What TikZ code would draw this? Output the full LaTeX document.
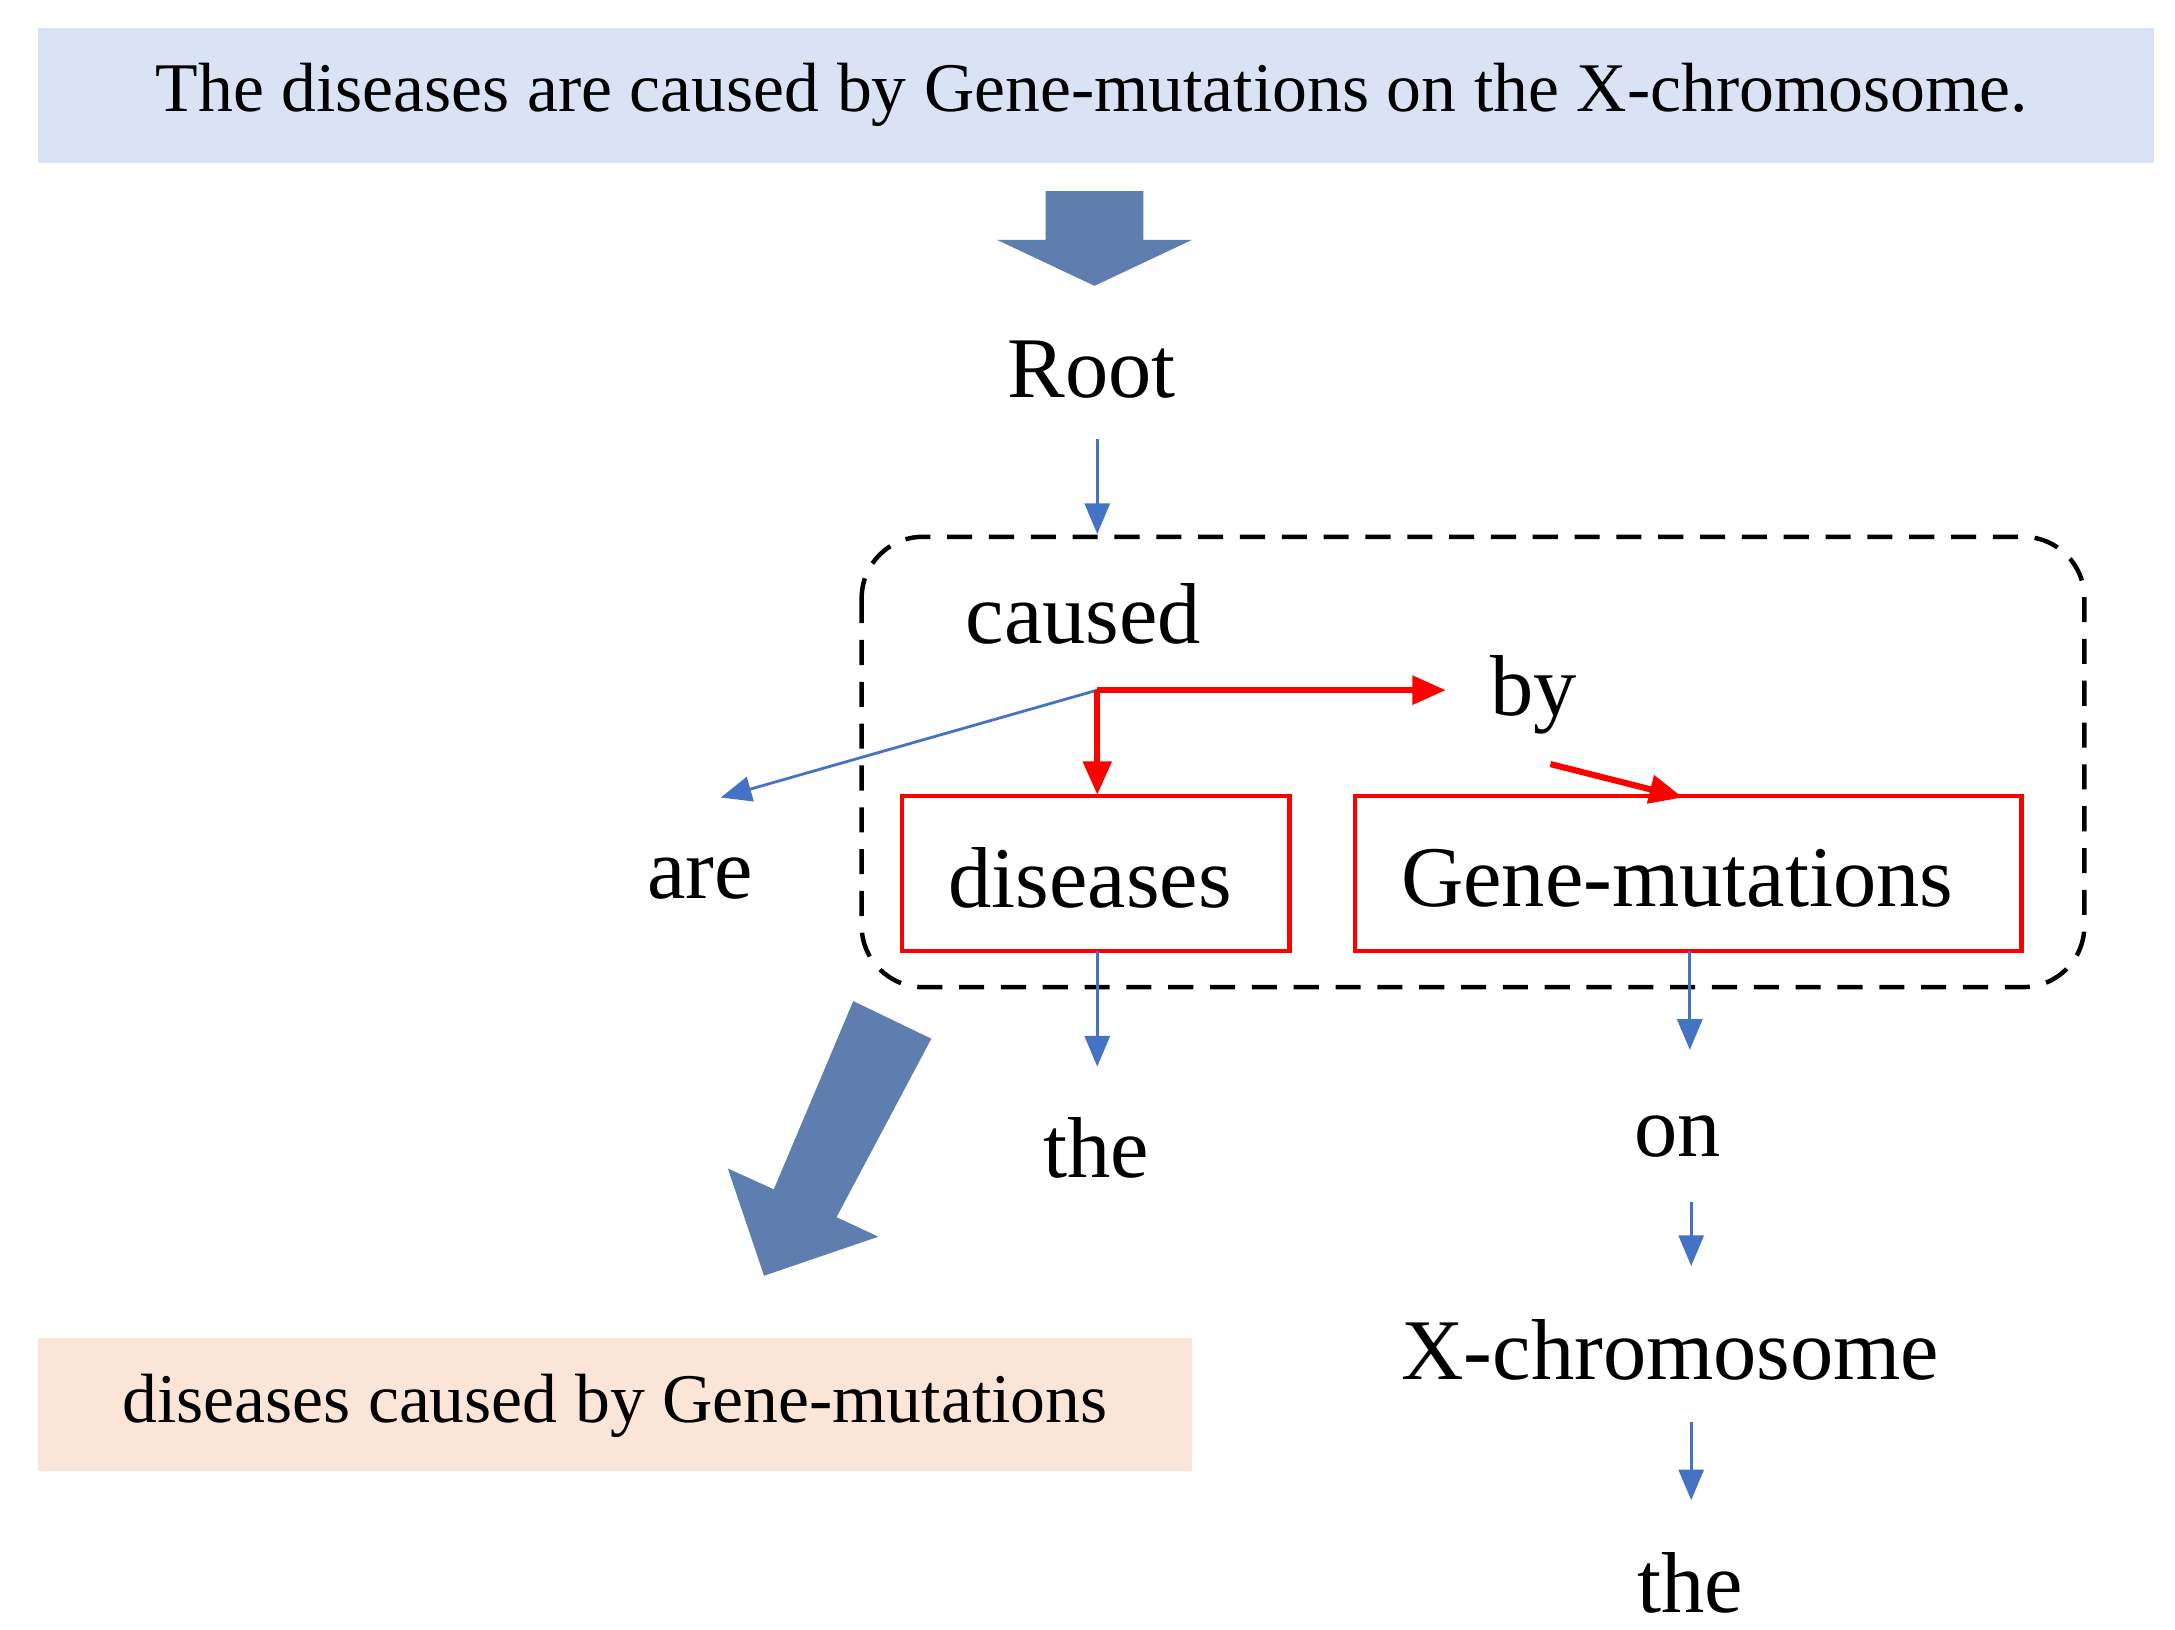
\documentclass[tikz,border=0pt]{standalone}
\usepackage{fontspec}
\setmainfont{Liberation Serif}
\usetikzlibrary{arrows.meta}
\definecolor{topblue}{RGB}{218,227,243}
\definecolor{botpeach}{RGB}{251,229,214}
\definecolor{bigarrow}{RGB}{95,126,176}
\definecolor{thinblue}{RGB}{68,114,196}
\definecolor{myred}{RGB}{255,0,0}
\tikzset{
  word/.style={font=\fontsize{31}{36}\selectfont, inner sep=0pt},
  banner/.style={font=\fontsize{25}{30}\selectfont, inner sep=0pt},
  thin/.style={draw=thinblue, line width=1pt, -{Triangle[length=11pt,width=9pt]}},
  redarr/.style={draw=myred, line width=2.2pt, -{Triangle[length=12pt,width=10pt]}},
  redbox/.style={draw=myred, line width=1.6pt},
}
\begin{document}
\begin{tikzpicture}[x=0.5pt,y=-0.5pt]
\useasboundingbox (0,0) rectangle (1560,1169);
% top banner
\fill[topblue] (27,20) rectangle (1545,117);
\node[banner] (top) at (783,68) {The diseases are caused by Gene-mutations on the X-chromosome.};
% big down arrow
\fill[bigarrow] (750,137) -- (820,137) -- (820,172) -- (855,172) -- (785,205) -- (715,172) -- (750,172) -- cycle;
\node[word] (root) at (783,265) {Root};
\coordinate (rootb) at (787,315);
\coordinate (rootend) at (787,383);
\draw[thin] (rootb) -- (rootend);
% dashed region
\draw[dashed, line width=1.6pt, dash pattern=on 9pt off 6pt, rounded corners=22pt] (618,385) rectangle (1495,708);
\node[word] (caused) at (777,440) {caused};
\node[word] (by) at (1100,498) {by};
\node[word] (are) at (502,630) {are};
\draw[redbox] (647,571) rectangle (925,682);
\node[word] (dis) at (782,630) {diseases};
\draw[redbox] (972,571) rectangle (1450,682);
\node[word] (gene) at (1203,630) {Gene-mutations};
\coordinate (hub) at (787,495);
\draw[thin] (hub) -- (517,572);
\draw[redarr] (hub) -- (1037,495);
\draw[redarr] (hub) -- (787,570);
\draw[redarr] (1112,548) -- (1207,572);
% below
\node[word] (the1) at (786,823) {the};
\draw[thin] (787,682) -- (787,765);
\node[word] (on) at (1203,815) {on};
\draw[thin] (1212,682) -- (1212,753);
\node[word] (xch) at (1198,968) {X-chromosome};
\draw[thin] (1213,862) -- (1213,908);
\node[word] (the2) at (1212,1135) {the};
\draw[thin] (1213,1020) -- (1213,1076);
% diagonal big arrow
\fill[bigarrow] (612,718) -- (668,745) -- (600,873) -- (630,887) -- (548,915) -- (522,838) -- (555,853) -- cycle;
% bottom banner
\fill[botpeach] (27,960) rectangle (855,1055);
\node[banner] (bot) at (441,1008) {diseases caused by Gene-mutations};
\end{tikzpicture}
\end{document}
